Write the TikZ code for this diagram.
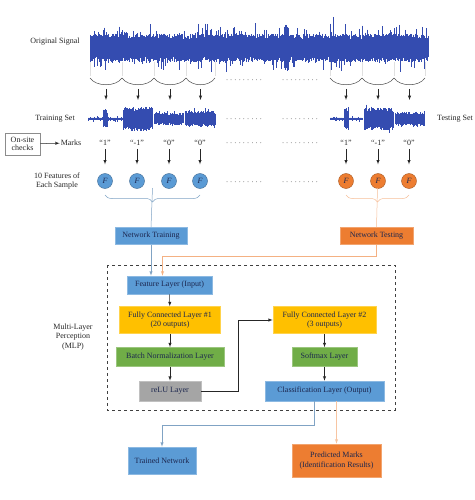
\documentclass[tikz,border=0pt]{standalone}
\usepackage{fontspec}
\setmainfont{Liberation Serif}
\usetikzlibrary{arrows,decorations.pathreplacing}

\definecolor{sigblue}{RGB}{52,76,176}
\definecolor{blueF}{RGB}{91,155,213}
\definecolor{orangeF}{RGB}{237,125,49}
\definecolor{yellowF}{RGB}{255,192,0}
\definecolor{greenF}{RGB}{112,173,71}
\definecolor{grayF}{RGB}{165,165,165}
\definecolor{navytext}{RGB}{28,38,78}

% one piece of noisy signal: x0, x1, centre, base height, spike height
\newcommand{\sigpiece}[5]{%
  \pgfmathtruncatemacro{\nn}{(#2-#1)*2}
  \foreach \i in {0,...,\nn}{%
    \pgfmathsetmacro{\xx}{#1+\i*0.5}
    \pgfmathsetmacro{\ha}{#4*(0.6+0.4*rnd)+#5*rnd^16}
    \pgfmathsetmacro{\hb}{#4*(0.6+0.4*rnd)+#5*rnd^16}
    \draw[sig] (\xx,#3-\ha) -- (\xx,#3+\hb);
  }}

\begin{document}
\begin{tikzpicture}[x=1pt,y=-1pt]
\tikzset{sig/.style={draw=sigblue,line width=0.6pt}}
\tikzset{lbl/.style={font=\fontsize{8}{9.5}\selectfont,text=black!85,align=center,inner sep=1pt}}
\tikzset{layer/.style={lbl,text=navytext,draw=#1!70!white,fill=#1,line width=0.6pt}}
\tikzset{feat/.style={circle,draw=#1!70!black,fill=#1,minimum size=15pt,inner sep=0pt,text=navytext,font=\fontsize{8}{9}\selectfont\itshape}}
\tikzset{dots/.style={font=\fontsize{9}{10}\selectfont,text=black!75}}
\tikzset{conn/.style={->,>=latex,black!85,line width=0.5pt}}
\tikzset{scallop/.style={draw=black!70,line width=0.5pt}}

\useasboundingbox (0,0) rectangle (474,500);
\pgfmathsetseed{17}

% original signal
\sigpiece{90}{428}{48}{14}{12}
\sigpiece{284}{288}{48}{24}{8}
\draw[sig] (333,17) -- (333,62);
\node[lbl] (orig) at (55,42) {Original Signal};
\foreach \x in {90,122,154,186,215,330,362,394,425}
  \draw[black!12,line width=0.3pt] (\x,62) -- (\x,76);

% scallops and arrows down to the pieces
\foreach \a/\b [count=\k] in {90/122,122/154,154/186,186/215,330/362,362/394,394/425}{
  \draw[scallop] (\a,78) .. controls (\a+6,87) and (\b-6,87) .. (\b,78);
  \coordinate (s\k) at ({(\a+\b)/2},89);
  \coordinate (t\k) at ({(\a+\b)/2},100);
  \draw[conn] (s\k) -- (t\k);
}
\foreach \x/\y in {244/80,300/80,244/119,300/119,244/143,300/143,244/182,300/182}
  \node[dots] at (\x,\y) {$\cdots$\hspace{2pt}$\cdots$\hspace{2pt}$\cdots$};

% training and testing pieces
\sigpiece{88}{122}{119}{1.5}{2}
\sigpiece{103}{107}{119}{10}{4}
\sigpiece{123}{152}{119}{12}{3}
\sigpiece{154}{183}{119}{6}{3}
\sigpiece{185}{215}{119}{8}{5}
\sigpiece{330}{362}{119}{1.5}{2}
\sigpiece{344}{348}{119}{11}{3}
\sigpiece{364}{393}{119}{11}{5}
\sigpiece{395}{424}{119}{7}{4}
\node[lbl] (trainset) at (55,119) {Training Set};
\node[lbl,anchor=west] (testset) at (436,119) {Testing Set};

% marks and features
\node[lbl,draw=black!45,line width=0.7pt,minimum width=35pt,minimum height=22pt] (onsite) at (22.5,144) {On-site\\[-2pt]checks};
\node[lbl] (marks) at (71,143) {Marks};
\draw[conn] (onsite) -- (marks);
\node[lbl] (featlbl) at (57,181) {10 Features of\\Each Sample};
\foreach \x/\m/\c [count=\k] in {105/“1”/blueF,137/“-1”/blueF,169/“0”/blueF,200/“0”/blueF,346/“1”/orangeF,378/“-1”/orangeF,409/“0”/orangeF}{
  \node[lbl] (mk\k) at (\x,143) {\m};
  \node[feat=\c] (f\k) at (\x,181) {F};
  \draw[conn,shorten <=2pt,shorten >=9pt] (mk\k) -- (f\k);
}

% braces and the two branches
\draw[decorate,decoration={brace,mirror,amplitude=7pt},draw=blueF!80!black!70,line width=0.5pt] (105,195) -- (200,195) coordinate[pos=0.5] (bt);
\draw[decorate,decoration={brace,mirror,amplitude=7pt},draw=orangeF!50,line width=0.5pt] (346,195) -- (409,195) coordinate[pos=0.5] (bo);
\node[layer=blueF,minimum width=72pt,minimum height=17pt] (nettrain) at (151,236) {Network Training};
\node[layer=orangeF,minimum width=73pt,minimum height=17pt] (nettest) at (376.5,236) {Network Testing};
\draw[blueF!80!black!70,line width=0.5pt] ([yshift=7pt]bt) -- (nettrain.north);
\draw[orangeF!50,line width=0.5pt] ([yshift=7pt]bo) -- (nettest.north);

% MLP
\draw[dashed,black!75,line width=0.7pt] (107,265) rectangle (395,410);
\node[lbl] (mlp) at (73,337) {Multi-Layer\\Perception\\(MLP)};
\node[layer=blueF,minimum width=85pt,minimum height=18pt] (feat) at (169.5,285) {Feature Layer (Input)};
\node[layer=yellowF,minimum width=101pt,minimum height=27pt] (fc1) at (170,320) {Fully Connected Layer \#1\\(20 outputs)};
\node[layer=greenF,minimum width=108pt,minimum height=19pt] (bn) at (170,357) {Batch Normalization Layer};
\node[layer=grayF,minimum width=62pt,minimum height=20pt] (relu) at (170,391) {reLU Layer};
\node[layer=yellowF,minimum width=103pt,minimum height=27pt] (fc2) at (324.5,320) {Fully Connected Layer \#2\\(3 outputs)};
\node[layer=greenF,minimum width=65pt,minimum height=19pt] (soft) at (324.5,357) {Softmax Layer};
\node[layer=blueF,minimum width=119pt,minimum height=20pt] (cls) at (324.5,391) {Classification Layer (Output)};

\draw[conn,blueF!80!black!70] (nettrain.south) -- (nettrain.south |- feat.north);
\draw[conn,orangeF!60] (nettest.south) -- ++(0,11) -| ([xshift=-7pt]feat.north);
\draw[conn] (feat) -- (fc1);
\draw[conn] (fc1) -- (bn);
\draw[conn] (bn) -- (relu);
\draw[conn] (relu.east) -- ++(37,0) |- (fc2.west);
\draw[conn] (fc2) -- (soft);
\draw[conn] (soft) -- (cls);

% results
\node[layer=blueF,minimum width=68pt,minimum height=27pt] (trained) at (162,460.5) {Trained Network};
\node[layer=orangeF,minimum width=89pt,minimum height=33pt] (pred) at (336.5,460.5) {Predicted Marks\\(Identification Results)};
\draw[conn,blueF!80!black!70] ([xshift=-10.5pt]cls.south) -- ++(0,24) -| (trained.north);
\draw[conn,orangeF!45] (cls.south -| pred.north) -- (pred.north);
\end{tikzpicture}
\end{document}
